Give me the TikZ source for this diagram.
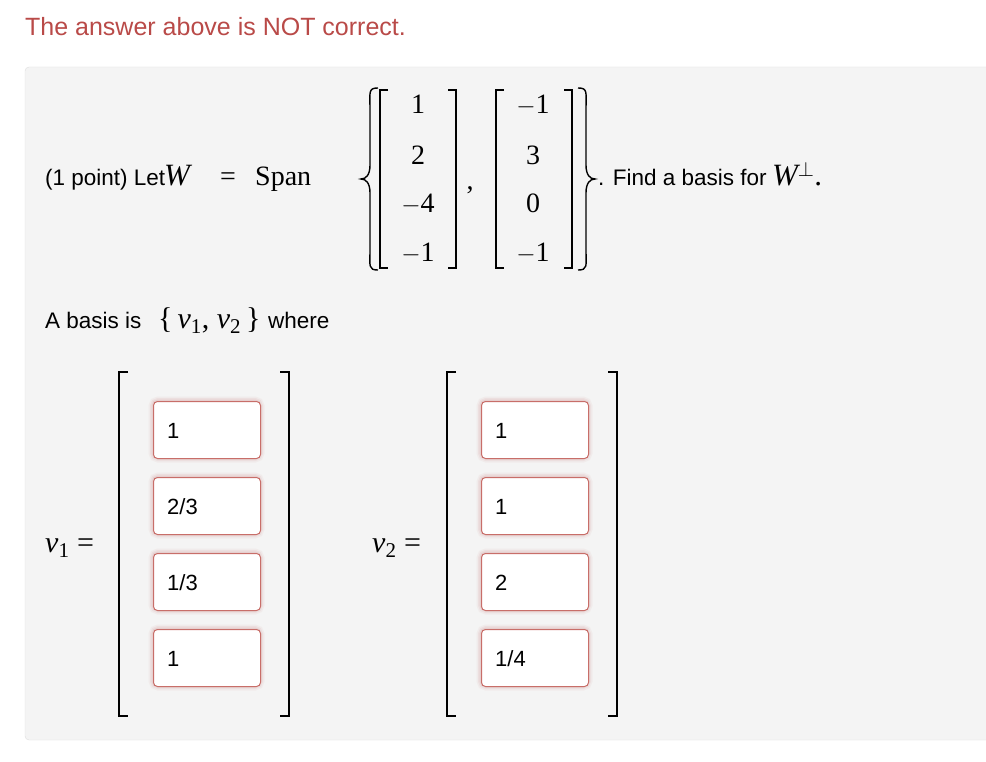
\documentclass[tikz,border=0pt]{standalone}
\usepackage{fontspec}
\setmainfont{Liberation Sans}
\newfontfamily\serifm{Liberation Serif}
\definecolor{errred}{RGB}{185,74,72}
\definecolor{boxred}{RGB}{200,110,105}
\begin{document}
\begin{tikzpicture}[x=1pt,y=-1pt,
  body/.style={font=\fontsize{22.5}{24}\selectfont,anchor=base west,inner sep=0},
  mnum/.style={font=\serifm\fontsize{28}{30}\selectfont,anchor=base,inner sep=0},
  brk/.style={line width=1.4pt},
  ansbox/.style={draw=boxred,line width=1pt,fill=white,rounded corners=4pt,minimum width=107pt,minimum height=57pt,anchor=north west}]
\useasboundingbox (0,0) rectangle (986,762);
\node[body,text=errred,font=\fontsize{25}{27}\selectfont] (title) at (25,36) {The answer above is NOT correct.};
\draw[fill={rgb,255:red,244;green,244;blue,244},draw={rgb,255:red,221;green,221;blue,221},rounded corners=4pt] (25,67) rectangle (1000,740);
% question line
\node[body] (q1) at (45,186) {(1 point) Let};
\node[mnum,anchor=base west,font=\serifm\itshape\fontsize{31}{32}\selectfont] (w) at (164,186) {W};
\node[mnum,anchor=base west] (eq) at (220,186) {=};
\node[mnum,anchor=base west] (span) at (255,186) {Span};
\node[body] (q2) at (598,186) {. Find a basis for};
\node[mnum,anchor=base west,font=\serifm\fontsize{31}{32}\selectfont] (w2) at ([xshift=5pt]q2.base east) {\itshape W\upshape$^{\perp}$.};
% braces
\draw[brk] (378,88) .. controls (368,88) and (370,92) .. (370,110) -- (370,165) .. controls (370,175) and (366,179) .. (361,179) .. controls (366,179) and (370,183) .. (370,193) -- (370,250) .. controls (370,266) and (368,270) .. (378,270);
\draw[brk] (578,88) .. controls (588,88) and (586,92) .. (586,110) -- (586,165) .. controls (586,175) and (590,179) .. (595,179) .. controls (590,179) and (586,183) .. (586,193) -- (586,250) .. controls (586,266) and (588,270) .. (578,270);
% matrices
\draw[brk] (388,90) -- (380,90) -- (380,268) -- (388,268);
\draw[brk] (448,90) -- (456,90) -- (456,268) -- (448,268);
\draw[brk] (504,90) -- (496,90) -- (496,268) -- (504,268);
\draw[brk] (564,90) -- (572,90) -- (572,268) -- (564,268);
\foreach \v/\y in {1/114,2/165,{$-$4}/213,{$-$1}/262} \node[mnum] at (418,\y) {\v};
\foreach \v/\y in {{$-$1}/114,3/165,0/213,{$-$1}/262} \node[mnum] at (533,\y) {\v};
\node[mnum] (comma) at (470,190) {,};
% basis line
\node[body] (b) at (45,328) {A basis is};
\node[mnum,anchor=base west,font=\serifm\fontsize{30}{32}\selectfont] (b2) at (158,328) {\{\,\itshape v\upshape\textsubscript{1},\ \itshape v\upshape\textsubscript{2}\,\}};
\node[body] (b3) at ([xshift=7pt]b2.base east) {where};
% v labels
\node[mnum,anchor=base west,font=\serifm\fontsize{30}{32}\selectfont] (v1) at (45,552) {\itshape v\upshape\textsubscript{1} =};
\node[mnum,anchor=base west,font=\serifm\fontsize{30}{32}\selectfont] (v2) at (372,552) {\itshape v\upshape\textsubscript{2} =};
\draw[brk] (128,372) -- (119,372) -- (119,716) -- (128,716);
\draw[brk] (280,372) -- (289,372) -- (289,716) -- (280,716);
\draw[brk] (456,372) -- (447,372) -- (447,716) -- (456,716);
\draw[brk] (608,372) -- (617,372) -- (617,716) -- (608,716);
\foreach \x/\vals in {153/{1,2/3,1/3,1},481/{1,1,2,1/4}}{
  \foreach \t [count=\i from 0] in \vals {
    \pgfmathsetmacro\yy{401+76*\i}
    \foreach \w/\o in {9/0.05,6/0.07,3/0.10}
      \draw[errred,line width=\w pt,opacity=\o,rounded corners=5pt] (\x,\yy) rectangle ++(107,57);
    \node[ansbox] (b\x\i) at (\x,\yy) {};
    \node[body,font=\fontsize{22}{24}\selectfont] at (\x+14,\yy+37) {\t};
  }
}
\end{tikzpicture}
\end{document}
